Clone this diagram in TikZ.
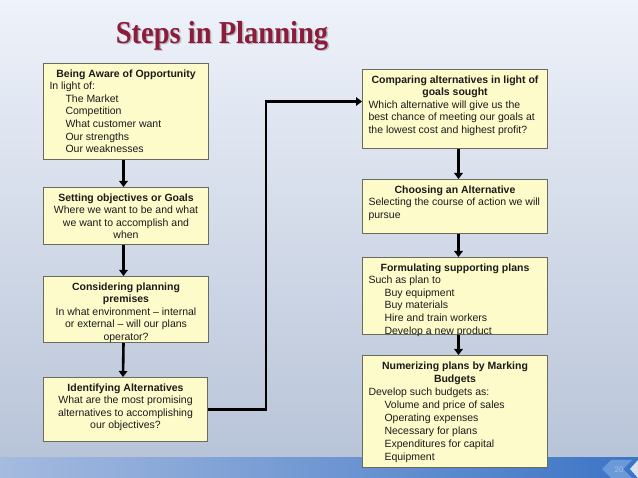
\documentclass[tikz,border=0pt]{standalone}
\usepackage{fontspec}
\setmainfont{Liberation Sans}
\newfontfamily\titlefont{Liberation Serif}
\usetikzlibrary{arrows.meta}
\definecolor{bgtop}{HTML}{EEF2FA}
\definecolor{bgmid}{HTML}{E4EAF4}
\definecolor{bgbot}{HTML}{B8C4D8}
\definecolor{bandl}{HTML}{A5BBDF}
\definecolor{bandr}{HTML}{3C74C6}
\definecolor{boxfill}{HTML}{FEFBCB}
\definecolor{boxline}{HTML}{6A6A5E}
\definecolor{textc}{HTML}{1A1A1A}
\definecolor{titlered}{HTML}{8C1C3B}
\definecolor{chev}{HTML}{6A9AD9}
\definecolor{chevtext}{HTML}{A9C1E6}
\definecolor{chevwhite}{HTML}{D9E1EE}
\tikzset{
  stepbox/.style={draw=boxline, fill=boxfill, line width=1pt, inner xsep=6pt, inner ysep=6pt,
    anchor=north west, font=\fontsize{10.5}{12.6}\selectfont, text=textc},
  conn/.style={line width=2.6pt, draw=black, -{Triangle[length=6pt,width=8.5pt]}},
}
\newcommand{\ind}{\hspace*{16pt}}
\begin{document}
\begin{tikzpicture}[x=1pt,y=-1pt]
\useasboundingbox (0,0) rectangle (638,478);
% background
\shade[top color=bgtop, middle color=bgmid, bottom color=bgbot] (0,0) rectangle (638,458);
\shade[left color=bandl, right color=bandr] (0,458) rectangle (638,478);
\fill[chev] (602,469) -- (611,460) -- (632,460) -- (623,469) -- (632,478) -- (611,478) -- cycle;
\fill[chevwhite] (638,460) -- (630,469) -- (638,478) -- cycle;
\node[text=chevtext, font=\fontsize{8}{8}\selectfont, anchor=center] (pagenum) at (619,469.5) {20};
% title
\node[text=black!35, opacity=0.7, anchor=base, font=\titlefont\bfseries\fontsize{28.5}{30}\selectfont] (titleshadow) at (223.5,45) {\scalebox{1}[1.12]{Steps in Planning}};
\node[text=titlered, anchor=base, font=\titlefont\bfseries\fontsize{28.5}{30}\selectfont] (title) at (222,43.5) {\scalebox{1}[1.12]{Steps in Planning}};
% left column
\node[stepbox] (b1) at (43,63) {\parbox[t][84pt][t]{153pt}{\raggedright
  {\centering\bfseries Being Aware of Opportunity\par}
  In light of:\\
  \ind The Market\\
  \ind Competition\\
  \ind What customer want\\
  \ind Our strengths\\
  \ind Our weaknesses}};
\node[stepbox] (b2) at (43,187) {\parbox[t][45pt][t]{153pt}{\centering
  {\bfseries Setting objectives or Goals}\\
  Where we want to be and what\\
  we want to accomplish and\\
  when}};
\node[stepbox] (b3) at (43,276) {\parbox[t][54pt][t]{153pt}{\centering
  {\bfseries Considering planning\\ premises}\\
  In what environment -- internal\\
  or external -- will our plans\\
  operator?}};
\node[stepbox] (b4) at (43,377) {\parbox[t][52pt][t]{152pt}{\centering
  {\bfseries Identifying Alternatives}\\
  What are the most promising\\
  alternatives to accomplishing\\
  our objectives?}};
% right column
\node[stepbox] (b5) at (362,69) {\parbox[t][67pt][t]{173pt}{\raggedright
  {\centering\bfseries Comparing alternatives in light of\\ goals sought\par}
  Which alternative will give us the\\
  best chance of meeting our goals at\\
  the lowest cost and highest profit?}};
\node[stepbox] (b6) at (362,179) {\parbox[t][42pt][t]{173pt}{\raggedright
  {\centering\bfseries Choosing an Alternative\par}
  Selecting the course of action we will\\
  pursue}};
\node[stepbox] (b7) at (362,257) {\parbox[t][65pt][t]{173pt}{\raggedright
  {\centering\bfseries Formulating supporting plans\par}
  Such as plan to\\
  \ind Buy equipment\\
  \ind Buy materials\\
  \ind Hire and train workers\\
  \ind Develop a new product}};
\node[stepbox, font=\fontsize{10.5}{13}\selectfont] (b8) at (362,355) {\parbox[t][100pt][t]{173pt}{\raggedright
  {\centering\bfseries Numerizing plans by Marking\\ Budgets\par}
  Develop such budgets as:\\
  \ind Volume and price of sales\\
  \ind Operating expenses\\
  \ind Necessary for plans\\
  \ind Expenditures for capital\\
  \ind Equipment}};
% connectors
\draw[conn] ([xshift=-2.5pt]b1.south) -- ([xshift=-2.5pt]b2.north);
\draw[conn] ([xshift=-2.5pt]b2.south) -- ([xshift=-2.5pt]b3.north);
\draw[conn] ([xshift=-2.5pt]b3.south) -- ([xshift=-2.5pt]b4.north);
\draw[conn] ([xshift=3.5pt]b5.south) -- ([xshift=3.5pt]b6.north);
\draw[conn] ([xshift=3.5pt]b6.south) -- ([xshift=3.5pt]b7.north);
\draw[conn] ([xshift=3.5pt]b7.south) -- ([xshift=3.5pt]b8.north);
\coordinate (elbow) at (266,0);
\draw[conn] (b4.east) -- (b4.east -| elbow) |- ([yshift=7.5pt]b5.west);
\end{tikzpicture}
\end{document}
